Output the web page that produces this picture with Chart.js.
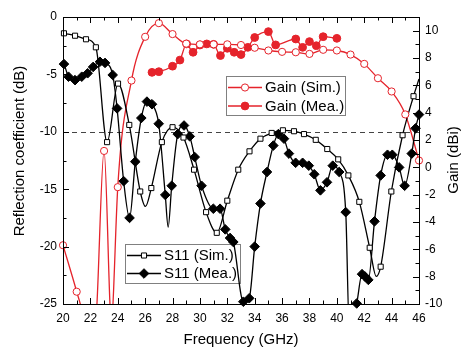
<!DOCTYPE html>
<html><head><meta charset="utf-8">
<script src="https://cdn.jsdelivr.net/npm/chart.js@4/dist/chart.umd.min.js"></script>
<style>html,body{margin:0;padding:0;background:#fff}#w{width:474px;height:355px}</style>
</head><body><div id="w"><canvas id="c" width="474" height="355"></canvas></div>
<script>
// ---- tick labels ----
const xTickVals = [20,22,24,26,28,30,32,34,36,38,40,42,44,46];
const s11TickVals = [0,-5,-10,-15,-20,-25];
const gainTickVals = [-10,-8,-6,-4,-2,0,2,4,6,8,10];

// ---- S11 (Sim.) markers ----
const s11SimFreq = [20.07,20.88,21.68,22.4,23.22,24.02,24.84,25.64,26.45,27.22,28.0,28.8,29.57,30.45,31.23,32.0,32.8,33.62,34.42,35.24,36.06,36.87,37.6,38.46,39.3,40.1,40.84,41.64,42.4,43.2,43.98,44.8,45.6];
const s11SimDb   = [-1.42,-1.63,-1.94,-2.64,-10.9,-5.8,-9.4,-15.2,-14.9,-10.9,-9.6,-10.5,-13.3,-17.0,-18.8,-16.0,-13.3,-11.7,-10.6,-10.1,-9.87,-9.95,-10.2,-10.7,-11.5,-12.4,-13.8,-16.1,-20.1,-21.75,-15.2,-10.3,-6.9];
// extra curve points (between markers)
const s11SimCurveFreq = [20.0,26.02,42.88,46.0];
const s11SimCurveDb   = [-1.4,-16.5,-22.6,-5.4];

// ---- S11 (Mea.) markers ----
const s11MeaFreq = [20.07,20.4,20.88,21.37,21.8,22.2,22.7,23.07,23.63,23.95,24.43,24.86,25.28,25.72,26.13,26.5,26.99,27.47,27.94,28.38,28.84,29.26,29.62,30.12,30.98,31.47,31.85,32.2,32.44,33.17,33.6,34.0,34.42,34.9,35.36,35.73,36.14,36.5,36.99,37.5,37.95,38.35,38.8,39.28,39.7,40.17,40.65,41.45,41.84,42.05,42.3,42.75,43.2,43.7,44.05,44.55,44.95,45.47,45.75,46.0];
const s11MeaDb   = [-4.1,-5.2,-5.5,-5.2,-4.9,-4.35,-3.9,-4.0,-5.05,-7.96,-14.3,-17.5,-12.6,-8.8,-7.37,-7.6,-9.3,-15.5,-14.7,-10.2,-9.45,-10.4,-12.2,-14.7,-16.7,-16.7,-18.5,-19.25,-19.6,-24.8,-24.5,-20.0,-16.25,-13.5,-11.2,-10.2,-10.6,-11.9,-12.7,-12.7,-12.95,-13.7,-15.1,-14.4,-12.95,-13.5,-17.0,-24.95,-22.4,-22.6,-22.9,-17.8,-13.8,-12.0,-12.0,-13.1,-14.7,-11.9,-9.7,-8.5];
const s11MeaCurveFreq = [20.0,27.68,40.92,41.2];
const s11MeaCurveDb   = [-4.0,-18.3,-27.5,-26.0];

// ---- Gain (Sim.) markers ----
const gainSimFreq = [20,21,23,24,25,26,27,28,29,30,31,32,33,34,35,36,37,38,39,40,41,42,43,44,45,46];
const gainSimDbi  = [-5.7,-9.1,1.2,-1.45,6.35,9.55,10.55,9.75,9.05,9.0,9.0,9.0,8.95,8.75,8.55,8.45,8.42,8.3,8.6,8.55,8.25,7.57,6.52,5.55,3.87,0.5];
const gainSimCurveFreq = [21.4,21.9,22.3,22.48,23.43,23.53,23.65];
const gainSimCurveDbi  = [-10.6,-14,-13,-10,-10,-12,-10];

// ---- Gain (Mea.) markers ----
const gainMeaFreq = [26.5,27,28,28.54,29.03,29.5,30,30.5,31,31.5,32,32.5,33,33.5,34,35,35.53,37,37.5,38,38.5,39,40];
const gainMeaDbi  = [6.95,7.0,7.4,7.85,9.03,8.42,8.95,9.03,9.0,8.18,8.71,8.42,8.25,8.78,9.5,9.93,8.96,9.39,8.78,9.2,8.9,9.56,9.44];

const RED = '#e5232b';
const FONT = "'Liberation Sans', Arial, Helvetica, sans-serif";

function pts(f, v){ return f.map((x,i)=>({x:x, y:v[i]})); }
function merged(f1,v1,f2,v2){ return pts(f1,v1).concat(pts(f2,v2)).sort((a,b)=>a.x-b.x); }

const simSq = {pointStyle:'rect', radius:3.6, borderWidth:1, borderColor:'#000', backgroundColor:'#fff'};
const meaDi = {pointStyle:'rectRot', radius:4.8, borderWidth:1, borderColor:'#000', backgroundColor:'#000'};
const simCi = {pointStyle:'circle', radius:3.6, borderWidth:1, borderColor:RED, backgroundColor:'#fff'};
const meaCi = {pointStyle:'circle', radius:3.9, borderWidth:1, borderColor:RED, backgroundColor:RED};

function curve(data, color, axis){
  return {data:data, yAxisID:axis, borderColor:color, borderWidth:1.3, pointRadius:0,
          cubicInterpolationMode:'monotone', fill:false, order:2};
}
function marks(data, m, axis){
  return {data:data, yAxisID:axis, showLine:false, pointStyle:m.pointStyle, pointRadius:m.radius,
          pointBorderWidth:m.borderWidth, pointBorderColor:m.borderColor, pointBackgroundColor:m.backgroundColor,
          clip:false, order:1};
}

const decor = {
  id:'decor',
  beforeDatasetsDraw(chart){
    const ctx = chart.ctx, a = chart.chartArea, y = chart.scales.y;
    ctx.save();
    // dashed -10 dB line
    ctx.strokeStyle = '#444'; ctx.lineWidth = 1; ctx.setLineDash([5,4]);
    const yy = Math.round(y.getPixelForValue(-10)) + 0.5;
    ctx.beginPath(); ctx.moveTo(a.left, yy); ctx.lineTo(a.right, yy); ctx.stroke();
    ctx.setLineDash([]);
    // legends
    const drawLegend = (bx, by, bw, bh, rows) => {
      ctx.fillStyle = '#fff'; ctx.fillRect(bx, by, bw, bh);
      ctx.strokeStyle = '#808080'; ctx.lineWidth = 1;
      ctx.strokeRect(bx + 0.5, by + 0.5, bw, bh);
      rows.forEach(r => {
        ctx.strokeStyle = r.color; ctx.lineWidth = 1.3;
        ctx.beginPath(); ctx.moveTo(bx + 2, r.y); ctx.lineTo(bx + 36, r.y); ctx.stroke();
        ctx.fillStyle = r.m.backgroundColor; ctx.strokeStyle = r.m.borderColor; ctx.lineWidth = r.m.borderWidth;
        Chart.helpers.drawPoint(ctx, {pointStyle:r.m.pointStyle, radius:r.m.radius, borderWidth:r.m.borderWidth, rotation:0}, bx + 19, r.y);
        ctx.fillStyle = '#000'; ctx.font = '15px ' + FONT;
        ctx.textBaseline = 'middle'; ctx.textAlign = 'left';
        ctx.fillText(r.label, bx + 39, r.y + 0.5);
      });
    };
    drawLegend(226, 76, 119, 39, [
      {y:87.5, color:RED, label:'Gain (Sim.)', m:simCi},
      {y:106, color:RED, label:'Gain (Mea.)', m:meaCi}
    ]);
    drawLegend(125, 244, 115, 39, [
      {y:255.5, color:'#000', label:'S11 (Sim.)', m:simSq},
      {y:273.5, color:'#000', label:'S11 (Mea.)', m:meaDi}
    ]);
    ctx.restore();
  },
  afterDatasetsDraw(chart){
    const ctx = chart.ctx, a = chart.chartArea;
    const x = chart.scales.x, y = chart.scales.y, y2 = chart.scales.y2;
    ctx.save();
    ctx.strokeStyle = '#000'; ctx.lineWidth = 1;
    ctx.strokeRect(a.left + 0.5, a.top + 0.5, a.right - a.left, a.bottom - a.top);
    ctx.beginPath();
    for (let f = 20; f <= 46; f++){
      const px = Math.round(x.getPixelForValue(f)) + 0.5;
      const L = (f % 2 === 0) ? 6 : 3.5;
      ctx.moveTo(px, a.bottom); ctx.lineTo(px, a.bottom - L);
      ctx.moveTo(px, a.top); ctx.lineTo(px, a.top + L);
    }
    for (let v = 0; v >= -25; v -= 2.5){
      const py = Math.round(y.getPixelForValue(v)) + 0.5;
      const L = (v % 5 === 0) ? 6 : 3.5;
      ctx.moveTo(a.left, py); ctx.lineTo(a.left + L, py);
    }
    for (let v = -10; v <= 11; v++){
      const py = Math.round(y2.getPixelForValue(v)) + 0.5;
      const L = (v % 2 === 0) ? 6 : 3.5;
      ctx.moveTo(a.right, py); ctx.lineTo(a.right - L, py);
    }
    ctx.stroke();
    // axis titles
    ctx.fillStyle = '#000'; ctx.font = '15px ' + FONT;
    ctx.textAlign = 'center'; ctx.textBaseline = 'middle';
    ctx.fillText('Frequency (GHz)', (a.left + a.right) / 2, 340);
    ctx.save(); ctx.translate(20, 151); ctx.rotate(-Math.PI/2);
    ctx.fillText('Reflection coefficient (dB)', 0, 0); ctx.restore();
    ctx.save(); ctx.translate(454, 160); ctx.rotate(-Math.PI/2);
    ctx.fillText('Gain (dBi)', 0, 0); ctx.restore();
    ctx.restore();
  }
};

const tickFont = {family:FONT, size:12};
new Chart(document.getElementById('c'), {
  type:'line',
  data:{datasets:[
    marks(pts(s11SimFreq, s11SimDb), simSq, 'y'),
    marks(pts(s11MeaFreq, s11MeaDb), meaDi, 'y'),
    marks(pts(gainSimFreq, gainSimDbi), simCi, 'y2'),
    marks(pts(gainMeaFreq, gainMeaDbi), meaCi, 'y2'),
    curve(merged(s11SimFreq, s11SimDb, s11SimCurveFreq, s11SimCurveDb), '#000', 'y'),
    curve(merged(s11MeaFreq, s11MeaDb, s11MeaCurveFreq, s11MeaCurveDb), '#000', 'y'),
    curve(merged(gainSimFreq, gainSimDbi, gainSimCurveFreq, gainSimCurveDbi), RED, 'y2'),
    curve(pts(gainMeaFreq, gainMeaDbi), RED, 'y2')
  ]},
  options:{
    responsive:false, animation:false, devicePixelRatio:1,
    layout:{padding:{top:17, left:0, right:0, bottom:0}},
    plugins:{legend:{display:false}, tooltip:{enabled:false}},
    scales:{
      x:{type:'linear', min:20, max:46, position:'bottom',
         afterBuildTicks:s=>{s.ticks = xTickVals.map(v=>({value:v}));},
         afterFit:s=>{s.height = 51;},
         grid:{display:false, drawTicks:false}, border:{display:false},
         ticks:{font:tickFont, color:'#000', padding:7, maxRotation:0, autoSkip:false, callback:v=>String(v)}},
      y:{type:'linear', min:-25, max:0, position:'left',
         afterBuildTicks:s=>{s.ticks = s11TickVals.map(v=>({value:v}));},
         afterFit:s=>{s.width = 63;},
         grid:{display:false, drawTicks:false}, border:{display:false},
         ticks:{font:tickFont, color:'#000', padding:6, autoSkip:false, callback:v=>String(v)}},
      y2:{type:'linear', min:-10, max:11, position:'right',
         afterBuildTicks:s=>{s.ticks = gainTickVals.map(v=>({value:v}));},
         afterFit:s=>{s.width = 55;},
         grid:{display:false, drawTicks:false}, border:{display:false},
         ticks:{font:tickFont, color:'#000', padding:6, autoSkip:false, callback:v=>String(v)}}
    }
  },
  plugins:[decor]
});
</script></body></html>
